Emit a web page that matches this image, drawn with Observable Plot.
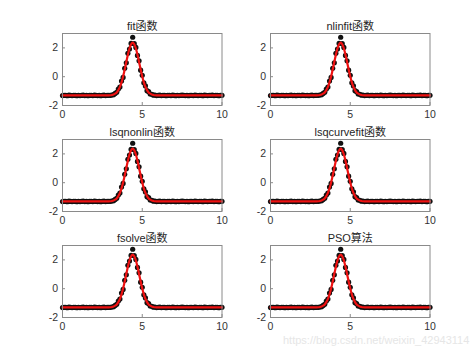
<!DOCTYPE html>
<html>
<head>
<meta charset="utf-8">
<script src="https://cdn.jsdelivr.net/npm/d3@7"></script>
<script src="https://cdn.jsdelivr.net/npm/@observablehq/plot@0.6"></script>
<style>
  html, body { margin: 0; padding: 0; background: #fff; }
  #fig { position: relative; width: 474px; height: 355px; overflow: hidden; background: #fff;
         font-family: "Liberation Sans", Arial, "Noto Sans CJK SC", sans-serif; }
  .panel { position: absolute; }
  #wm { position: absolute; left: 283px; top: 334px; font-size: 11px; color: #e6e6e6; white-space: nowrap; }
</style>
</head>
<body>
<div id="fig"></div>
<script>
// ---- data ----
const titles = ["fit函数", "nlinfit函数", "lsqnonlin函数", "lsqcurvefit函数", "fsolve函数", "PSO算法"];
const xTicks = [0, 5, 10];
const yTicks = [-2, 0, 2];
const watermark = "https://blog.csdn.net/weixin_42943114";

// x sample grid 0:0.1:10
const xs = d3.range(101).map(i => i / 10);

// measured data (black dots)
const yData = [
  -1.31, -1.29, -1.30, -1.32, -1.28, -1.30, -1.31, -1.29, -1.30, -1.32,
  -1.29, -1.31, -1.30, -1.28, -1.31, -1.30, -1.32, -1.29, -1.30, -1.31,
  -1.28, -1.30, -1.31, -1.29, -1.32, -1.30, -1.28, -1.31, -1.30, -1.29,
  -1.29, -1.27, -1.25, -1.16, -1.08, -0.86, -0.72, -0.30, -0.05, 0.58,
  0.97, 1.62, 1.92, 2.31, 2.74, 2.29, 2.03, 1.48, 1.10, 0.45,
  0.10, -0.42, -0.64, -0.97, -1.04, -1.20, -1.22, -1.28, -1.27, -1.31,
  -1.30, -1.28, -1.31, -1.29, -1.30, -1.32, -1.29, -1.30, -1.31, -1.28,
  -1.30, -1.32, -1.29, -1.31, -1.30, -1.28, -1.30, -1.31, -1.29, -1.32,
  -1.30, -1.29, -1.31, -1.28, -1.30, -1.31, -1.29, -1.30, -1.32, -1.28,
  -1.30, -1.31, -1.29, -1.30, -1.28, -1.31, -1.30, -1.29, -1.32, -1.30,
  -1.29
];

// fitted curve (red line)
const yFit = [
  -1.30, -1.30, -1.30, -1.30, -1.30, -1.30, -1.30, -1.30, -1.30, -1.30,
  -1.30, -1.30, -1.30, -1.30, -1.30, -1.30, -1.30, -1.30, -1.30, -1.30,
  -1.30, -1.30, -1.30, -1.30, -1.30, -1.30, -1.30, -1.30, -1.30, -1.30,
  -1.29, -1.27, -1.24, -1.18, -1.09, -0.93, -0.71, -0.39, 0.02, 0.50,
  1.02, 1.53, 1.96, 2.25, 2.36, 2.25, 1.96, 1.53, 1.02, 0.50,
  0.02, -0.39, -0.71, -0.93, -1.09, -1.18, -1.24, -1.27, -1.29, -1.30,
  -1.30, -1.30, -1.30, -1.30, -1.30, -1.30, -1.30, -1.30, -1.30, -1.30,
  -1.30, -1.30, -1.30, -1.30, -1.30, -1.30, -1.30, -1.30, -1.30, -1.30,
  -1.30, -1.30, -1.30, -1.30, -1.30, -1.30, -1.30, -1.30, -1.30, -1.30,
  -1.30, -1.30, -1.30, -1.30, -1.30, -1.30, -1.30, -1.30, -1.30, -1.30,
  -1.30
];

// ---- layout ----
const fig = document.getElementById("fig");
const frameW = 159.5, frameH = 72;
const colLeft = [61.7, 270.2];
const rowTop = [32.5, 138.8, 245];
const mL = 30, mR = 10, mT = 22, mB = 22;
const font = '"Liberation Sans", Arial, "Noto Sans CJK SC", sans-serif';

const points = xs.map((x, i) => ({x, y: yData[i]}));
const fitPts = xs.map((x, i) => ({x, y: yFit[i]}));

titles.forEach((t, k) => {
  const r = Math.floor(k / 2), c = k % 2;
  const chart = Plot.plot({
    width: mL + frameW + mR,
    height: mT + frameH + mB,
    marginLeft: mL, marginRight: mR, marginTop: mT, marginBottom: mB,
    style: {fontSize: "10.5px", fontFamily: font, color: "#333", background: "transparent", overflow: "visible"},
    x: {domain: [0, 10]},
    y: {domain: [-2, 3]},
    marks: [
      Plot.dot(points, {x: "x", y: "y", r: 2.6, fill: "#111", stroke: "none"}),
      Plot.line(fitPts, {x: "x", y: "y", stroke: "#ee1111", strokeWidth: 2.2, curve: "catmull-rom"}),
      Plot.frame({stroke: "#8a8a8a", strokeWidth: 1}),
      Plot.axisX({ticks: xTicks, tickSize: -3, tickPadding: 8, tickFormat: d => String(d), label: null, stroke: "#8a8a8a", fontSize: "10.5px"}),
      Plot.axisY({ticks: yTicks, tickSize: -3, tickPadding: 7.5, tickFormat: d => String(d), label: null, stroke: "#8a8a8a", fontSize: "10.5px"}),
      Plot.text([t], {text: d => d, frameAnchor: "top", lineAnchor: "bottom", dy: -3.5, fontSize: "11px", fill: "#262626"})
    ]
  });
  const wrap = document.createElement("div");
  wrap.className = "panel";
  wrap.style.left = (colLeft[c] - mL) + "px";
  wrap.style.top = (rowTop[r] - mT) + "px";
  wrap.appendChild(chart);
  fig.appendChild(wrap);
});

const wm = document.createElement("div");
wm.id = "wm";
wm.textContent = watermark;
fig.appendChild(wm);
</script>
</body>
</html>
